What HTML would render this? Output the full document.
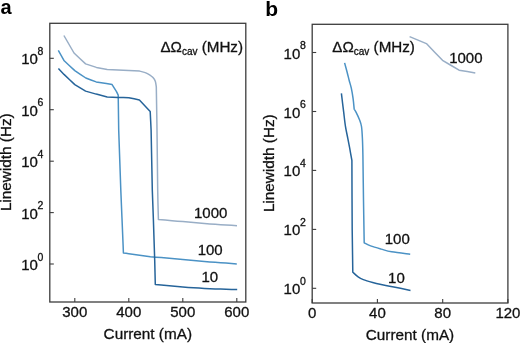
<!DOCTYPE html>
<html><head><meta charset="utf-8"><title>Linewidth vs current</title>
<style>
html,body{margin:0;padding:0;background:#fff;}
svg{display:block;}
text{font-family:"Liberation Sans", Arial, Helvetica, sans-serif;fill:#111;stroke:#111;stroke-width:0.3px;}
.t{font-size:15px;}
.s{font-size:10.5px;}
.sub{font-size:10px;}
.lab{font-size:15.3px;}
.lg{font-size:15.2px;}
.pl{font-size:20px;font-weight:bold;fill:#000;stroke:none;}
.pl.b{font-size:21px;}
.fr{fill:none;stroke:#3c3c3c;stroke-width:1.3;}
.tk{fill:none;stroke:#3c3c3c;stroke-width:1.1;}
.cv path{fill:none;stroke-width:1.5;stroke-linejoin:round;stroke-linecap:butt;}
</style></head><body>
<svg width="520" height="343" viewBox="0 0 520 343">
<rect width="520" height="343" fill="#fff"/>
<rect x="49.8" y="23.3" width="196.0" height="278.7" class="fr"/>
<path d="M49.8,264.0 h4" class="tk"/>
<text x="21.2" y="270.0" class="t">10</text>
<text x="37.6" y="260.7" class="s">0</text>
<path d="M49.8,212.6 h4" class="tk"/>
<text x="21.2" y="218.6" class="t">10</text>
<text x="37.6" y="209.3" class="s">2</text>
<path d="M49.8,161.2 h4" class="tk"/>
<text x="21.2" y="167.2" class="t">10</text>
<text x="37.6" y="157.9" class="s">4</text>
<path d="M49.8,109.7 h4" class="tk"/>
<text x="21.2" y="115.7" class="t">10</text>
<text x="37.6" y="106.4" class="s">6</text>
<path d="M49.8,58.3 h4" class="tk"/>
<text x="21.2" y="64.3" class="t">10</text>
<text x="37.6" y="55.0" class="s">8</text>
<path d="M74.8,302.0 v-4" class="tk"/>
<text x="74.8" y="316.5" class="t" text-anchor="middle">300</text>
<path d="M128.8,302.0 v-4" class="tk"/>
<text x="128.8" y="316.5" class="t" text-anchor="middle">400</text>
<path d="M182.8,302.0 v-4" class="tk"/>
<text x="182.8" y="316.5" class="t" text-anchor="middle">500</text>
<path d="M236.8,302.0 v-4" class="tk"/>
<text x="236.8" y="316.5" class="t" text-anchor="middle">600</text>
<g class="cv">
<path d="M63.90,35.50 C65.58,38.42 72.32,50.08 74.00,53.00 C75.93,54.82 83.67,62.08 85.60,63.90 C87.40,64.48 94.60,66.82 96.40,67.40 C98.20,67.73 105.40,69.07 107.20,69.40 C109.00,69.50 116.20,69.90 118.00,70.00 C119.80,70.07 127.00,70.33 128.80,70.40 C130.60,70.52 137.80,70.98 139.60,71.10 C140.53,71.35 143.53,71.98 145.20,72.60 C146.87,73.22 148.30,73.97 149.60,74.80 C150.90,75.63 152.05,76.53 153.00,77.60 C153.95,78.67 154.75,79.67 155.30,81.20 C155.85,82.73 156.13,85.87 156.30,86.80 C156.42,94.00 156.77,112.80 157.00,130.00 C157.23,147.20 157.47,175.10 157.70,190.00 C157.93,204.90 158.28,214.50 158.40,219.40 C160.67,219.62 169.73,220.48 172.00,220.70 C173.80,220.85 181.00,221.45 182.80,221.60 C184.60,221.77 191.80,222.43 193.60,222.60 C195.40,222.75 202.60,223.35 204.40,223.50 C206.20,223.63 213.40,224.17 215.20,224.30 C217.00,224.42 224.20,224.88 226.00,225.00 C227.83,225.12 235.17,225.58 237.00,225.70" stroke="#99aec6"/>
<path d="M58.30,50.40 C59.28,52.13 63.22,59.07 64.20,60.80 C65.97,62.43 73.03,68.97 74.80,70.60 C76.63,71.83 83.97,76.77 85.80,78.00 C87.53,78.65 94.47,81.25 96.20,81.90 C97.90,82.15 104.70,83.15 106.40,83.40 C107.35,83.60 111.15,84.40 112.10,84.60 C112.83,85.77 115.77,90.43 116.50,91.60 C116.78,92.18 117.92,94.52 118.20,95.10 C118.28,100.92 118.62,124.18 118.70,130.00 C119.05,140.00 120.45,180.00 120.80,190.00 C121.18,199.17 122.72,235.83 123.10,245.00 C123.15,246.32 123.35,251.58 123.40,252.90 C124.30,253.03 127.90,253.57 128.80,253.70 C130.60,253.95 137.80,254.95 139.60,255.20 C141.40,255.45 148.60,256.45 150.40,256.70 C152.20,256.85 159.40,257.45 161.20,257.60 C163.00,257.75 170.20,258.35 172.00,258.50 C173.80,258.68 181.00,259.42 182.80,259.60 C184.60,259.77 191.80,260.43 193.60,260.60 C195.40,260.75 202.60,261.35 204.40,261.50 C206.20,261.63 213.40,262.17 215.20,262.30 C217.00,262.43 224.20,262.97 226.00,263.10 C227.80,263.23 235.00,263.77 236.80,263.90" stroke="#4b92c5"/>
<path d="M58.40,68.40 C59.33,69.40 63.07,73.40 64.00,74.40 C65.80,76.10 73.00,82.90 74.80,84.60 C76.60,85.68 83.80,90.02 85.60,91.10 C87.37,91.60 94.43,93.60 96.20,94.10 C98.03,94.57 105.37,96.43 107.20,96.90 C109.00,96.98 116.20,97.32 118.00,97.40 C119.80,97.45 127.00,97.65 128.80,97.70 C130.57,98.07 137.63,99.53 139.40,99.90 C141.20,101.85 148.40,109.65 150.20,111.60 C150.35,114.67 150.95,126.93 151.10,130.00 C151.30,140.00 152.10,180.00 152.30,190.00 C152.48,195.00 153.22,215.00 153.40,220.00 C153.62,226.67 154.48,253.33 154.70,260.00 C154.80,264.07 155.20,280.33 155.30,284.40 C156.28,284.50 160.22,284.90 161.20,285.00 C163.00,285.17 170.20,285.83 172.00,286.00 C173.80,286.17 181.00,286.83 182.80,287.00 C184.60,287.13 191.80,287.67 193.60,287.80 C195.40,287.90 202.60,288.30 204.40,288.40 C206.20,288.48 213.40,288.82 215.20,288.90 C217.00,288.97 224.20,289.23 226.00,289.30 C227.87,289.35 235.33,289.55 237.20,289.60" stroke="#26649a"/>
</g>
<text x="147.8" y="338.5" class="lab" text-anchor="middle">Current (mA)</text>
<text transform="translate(11.0,162.2) rotate(-90)" class="lab" text-anchor="middle">Linewidth (Hz)</text>
<text x="0.5" y="14.2" class="pl a">a</text>
<text x="160.4" y="51.5" class="lg">ΔΩ<tspan class="sub" dy="3.3">cav</tspan><tspan dy="-3.3"> (MHz)</tspan></text>
<text x="210.65" y="217.8" class="t" text-anchor="middle">1000</text>
<text x="210.2" y="255.3" class="t" text-anchor="middle">100</text>
<text x="209.75" y="282.2" class="t" text-anchor="middle">10</text>
<rect x="312.2" y="24.3" width="195.7" height="278.7" class="fr"/>
<path d="M312.2,288.3 h4" class="tk"/>
<text x="283.6" y="294.3" class="t">10</text>
<text x="300.0" y="285.0" class="s">0</text>
<path d="M312.2,229.4 h4" class="tk"/>
<text x="283.6" y="235.4" class="t">10</text>
<text x="300.0" y="226.1" class="s">2</text>
<path d="M312.2,170.4 h4" class="tk"/>
<text x="283.6" y="176.4" class="t">10</text>
<text x="300.0" y="167.1" class="s">4</text>
<path d="M312.2,111.5 h4" class="tk"/>
<text x="283.6" y="117.5" class="t">10</text>
<text x="300.0" y="108.2" class="s">6</text>
<path d="M312.2,52.5 h4" class="tk"/>
<text x="283.6" y="58.5" class="t">10</text>
<text x="300.0" y="49.2" class="s">8</text>
<path d="M312.2,303.0 v-4" class="tk"/>
<text x="312.2" y="317.5" class="t" text-anchor="middle">0</text>
<path d="M377.4,303.0 v-4" class="tk"/>
<text x="377.4" y="317.5" class="t" text-anchor="middle">40</text>
<path d="M442.7,303.0 v-4" class="tk"/>
<text x="442.7" y="317.5" class="t" text-anchor="middle">80</text>
<path d="M507.9,303.0 v-4" class="tk"/>
<text x="507.9" y="317.5" class="t" text-anchor="middle">120</text>
<g class="cv">
<path d="M409.60,36.60 C412.40,37.77 423.60,42.43 426.40,43.60 C429.08,46.38 439.82,57.52 442.50,60.30 C445.27,61.95 456.33,68.55 459.10,70.20 C461.80,70.65 472.60,72.45 475.30,72.90" stroke="#99aec6"/>
<path d="M344.60,62.90 C345.03,64.50 346.43,69.57 347.20,72.50 C347.97,75.43 348.52,77.88 349.20,80.50 C349.88,83.12 350.65,85.17 351.30,88.20 C351.95,91.23 352.62,95.20 353.10,98.70 C353.58,102.20 354.02,107.45 354.20,109.20 C354.50,109.68 355.12,110.35 356.00,112.10 C356.88,113.85 358.58,117.30 359.50,119.70 C360.42,122.10 361.02,123.40 361.50,126.50 C361.98,129.60 362.17,133.55 362.40,138.30 C362.63,143.05 362.72,144.72 362.90,155.00 C363.08,165.28 363.28,185.37 363.50,200.00 C363.72,214.63 364.08,235.67 364.20,242.80 C365.27,243.32 367.77,244.85 370.60,245.90 C373.43,246.95 377.68,248.12 381.20,249.10 C384.72,250.08 386.87,250.93 391.70,251.80 C396.53,252.67 407.12,253.88 410.20,254.30" stroke="#4b92c5"/>
<path d="M341.40,93.40 C341.60,95.05 342.21,100.08 342.60,103.30 C342.99,106.52 343.27,108.80 343.75,112.70 C344.23,116.60 344.82,122.43 345.50,126.70 C346.18,130.97 347.12,134.80 347.80,138.30 C348.48,141.80 349.08,144.92 349.60,147.70 C350.12,150.48 350.52,152.87 350.90,155.00 C351.28,157.13 351.73,159.58 351.90,160.50 C351.95,172.08 352.05,211.38 352.20,230.00 C352.35,248.62 352.70,265.17 352.80,272.20 C353.68,272.98 356.35,275.67 358.10,276.90 C359.85,278.13 360.87,278.67 363.30,279.60 C365.73,280.53 369.92,281.72 372.70,282.50 C375.48,283.28 376.70,283.60 380.00,284.30 C383.30,285.00 387.42,285.68 392.50,286.70 C397.58,287.72 407.50,289.78 410.50,290.40" stroke="#26649a"/>
</g>
<text x="410.0" y="339.5" class="lab" text-anchor="middle">Current (mA)</text>
<text transform="translate(273.5,163.2) rotate(-90)" class="lab" text-anchor="middle">Linewidth (Hz)</text>
<text x="265.3" y="15.5" class="pl b">b</text>
<text x="332.3" y="51.5" class="lg">ΔΩ<tspan class="sub" dy="3.3">cav</tspan><tspan dy="-3.3"> (MHz)</tspan></text>
<text x="465.85" y="62.5" class="t" text-anchor="middle">1000</text>
<text x="397.25" y="243.8" class="t" text-anchor="middle">100</text>
<text x="396.4" y="282.8" class="t" text-anchor="middle">10</text>
</svg>
</body></html>
